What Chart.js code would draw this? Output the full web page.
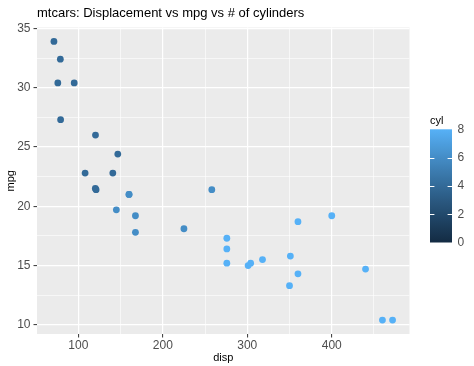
<!DOCTYPE html>
<html><head><meta charset="utf-8">
<script src="https://cdn.jsdelivr.net/npm/chart.js@4"></script>
<style>html,body{margin:0;padding:0;background:#fff}</style>
</head><body>
<canvas id="c" width="474" height="366"></canvas>
<script>
// mtcars data
const carNames = ["Mazda RX4","Mazda RX4 Wag","Datsun 710","Hornet 4 Drive","Hornet Sportabout","Valiant","Duster 360","Merc 240D","Merc 230","Merc 280","Merc 280C","Merc 450SE","Merc 450SL","Merc 450SLC","Cadillac Fleetwood","Lincoln Continental","Chrysler Imperial","Fiat 128","Honda Civic","Toyota Corolla","Toyota Corona","Dodge Challenger","AMC Javelin","Camaro Z28","Pontiac Firebird","Fiat X1-9","Porsche 914-2","Lotus Europa","Ford Pantera L","Ferrari Dino","Maserati Bora","Volvo 142E"];
const disp = [160,160,108,258,360,225,360,146.7,140.8,167.6,167.6,275.8,275.8,275.8,472,460,440,78.7,75.7,71.1,120.1,318,304,350,400,79,120.3,95.1,351,145,301,121];
const mpg = [21,21,22.8,21.4,18.7,18.1,14.3,24.4,22.8,19.2,17.8,16.4,17.3,15.2,10.4,10.4,14.7,32.4,30.4,33.9,21.5,15.5,15.2,13.3,19.2,27.3,26,30.4,15.8,19.7,15,21.4];
const cyl = [6,6,4,6,8,6,8,4,4,6,6,8,8,8,8,8,8,4,4,4,4,8,8,8,8,4,4,4,8,6,8,4];
const xTicks = [100,200,300,400];
const yTicks = [10,15,20,25,30,35];
const legendTicks = [0,2,4,6,8];
const colourLimits = [0,8];
const titleText = "mtcars: Displacement vs mpg vs # of cylinders";
const xTitle = "disp", yTitle = "mpg", legendTitle = "cyl";
const lowColour = "#132B43", highColour = "#56B1F7";

// ---- Lab colour interpolation (like scales::seq_gradient_pal) ----
function hexToRgb(h){h=h.replace('#','');return [0,2,4].map(i=>parseInt(h.substr(i,2),16));}
function toLab(rgb){
  const lin=rgb.map(c=>{c/=255;return c<=0.04045?c/12.92:Math.pow((c+0.055)/1.055,2.4);});
  const X=(0.4124*lin[0]+0.3576*lin[1]+0.1805*lin[2])/0.95047;
  const Y=(0.2126*lin[0]+0.7152*lin[1]+0.0722*lin[2]);
  const Z=(0.0193*lin[0]+0.1192*lin[1]+0.9505*lin[2])/1.08883;
  const f=t=>t>0.008856?Math.cbrt(t):7.787*t+16/116;
  const fx=f(X),fy=f(Y),fz=f(Z);
  return [116*fy-16,500*(fx-fy),200*(fy-fz)];
}
function fromLab(lab){
  const fy=(lab[0]+16)/116,fx=lab[1]/500+fy,fz=fy-lab[2]/200;
  const fi=t=>{const t3=t*t*t;return t3>0.008856?t3:(t-16/116)/7.787;};
  const X=0.95047*fi(fx),Y=fi(fy),Z=1.08883*fi(fz);
  let r=3.2406*X-1.5372*Y-0.4986*Z,g=-0.9689*X+1.8758*Y+0.0415*Z,b=0.0557*X-0.2040*Y+1.0570*Z;
  return [r,g,b].map(c=>{c=c<=0.0031308?12.92*c:1.055*Math.pow(c,1/2.4)-0.055;return Math.round(Math.max(0,Math.min(1,c))*255);});
}
const labLo=toLab(hexToRgb(lowColour)), labHi=toLab(hexToRgb(highColour));
function colourFor(v){
  const t=(v-colourLimits[0])/(colourLimits[1]-colourLimits[0]);
  const c=fromLab(labLo.map((x,i)=>x+(labHi[i]-x)*t));
  return `rgb(${c[0]},${c[1]},${c[2]})`;
}

// ---- axis ranges with ggplot-like 5% expansion ----
function expand(arr){const mn=Math.min(...arr),mx=Math.max(...arr),d=(mx-mn)*0.05;return [mn-d,mx+d];}
const xr=expand(disp), yr=expand(mpg);
function gridValues(major, lo, hi){
  const step=major[1]-major[0];const out=[];
  for(let v=major[0]-step/2; v<=major[major.length-1]+step/2+1e-9; v+=step/2){ if(v>=lo&&v<=hi) out.push(+v.toFixed(6)); }
  return out;
}
const isMajor=(arr,v)=>arr.some(m=>Math.abs(m-v)<1e-6);

const FONT="'Liberation Sans', Arial, sans-serif";

const bgPlugin={id:'bg',beforeDraw(chart){
  const {ctx,chartArea:a}=chart;ctx.save();ctx.fillStyle='#EBEBEB';
  ctx.fillRect(a.left,a.top,a.right-a.left,a.bottom-a.top);ctx.restore();
}};
const decoPlugin={id:'deco',afterDraw(chart){
  const ctx=chart.ctx, a=chart.chartArea;
  ctx.save();
  // title
  ctx.fillStyle='#000';ctx.font='13px '+FONT;ctx.textBaseline='middle';ctx.textAlign='left';
  ctx.fillText(titleText,a.left,13);
  // colourbar legend
  const x0=a.right+20.5, x1=x0+22, top=129.3, bot=242.5;
  ctx.font='11px '+FONT;ctx.fillStyle='#000';
  ctx.fillText(legendTitle,x0,121);
  const g=ctx.createLinearGradient(0,bot,0,top);
  for(let i=0;i<=30;i++){const t=i/30;g.addColorStop(t,colourFor(colourLimits[0]+t*(colourLimits[1]-colourLimits[0])));}
  ctx.fillStyle=g;ctx.fillRect(x0,top,x1-x0,bot-top);
  const yOf=v=>bot-(v-colourLimits[0])/(colourLimits[1]-colourLimits[0])*(bot-top);
  ctx.strokeStyle='#fff';ctx.lineWidth=1;
  legendTicks.forEach(v=>{
    if(v===colourLimits[0]||v===colourLimits[1])return;
    const y=Math.round(yOf(v))+0.5;
    ctx.beginPath();ctx.moveTo(x0,y);ctx.lineTo(x0+4.4,y);ctx.moveTo(x1-4.4,y);ctx.lineTo(x1,y);ctx.stroke();
  });
  ctx.fillStyle='#4D4D4D';ctx.font='12px '+FONT;ctx.textBaseline='middle';
  legendTicks.forEach(v=>ctx.fillText(String(v),x1+5.5,yOf(v)));
  ctx.restore();
}};

const pts=disp.map((d,i)=>({x:d,y:mpg[i]}));
new Chart(document.getElementById('c'),{
  type:'scatter',
  data:{datasets:[{label:legendTitle,data:pts,
    backgroundColor:cyl.map(colourFor),borderWidth:0,pointRadius:3.4,pointHoverRadius:3.4}]},
  options:{
    responsive:false,animation:false,devicePixelRatio:1,
    layout:{padding:{top:27.5,right:64.5,left:0,bottom:0}},
    plugins:{legend:{display:false},tooltip:{enabled:false},title:{display:false}},
    scales:{
      x:{type:'linear',min:xr[0],max:xr[1],
        afterBuildTicks:ax=>{ax.ticks=gridValues(xTicks,xr[0],xr[1]).map(v=>({value:v}));},
        afterFit:s=>{s.height=32;},
        border:{display:false},
        grid:{color:'#FFFFFF',lineWidth:c=>isMajor(xTicks,c.tick.value)?1.2:0.6,
          tickColor:c=>isMajor(xTicks,c.tick.value)?'#333333':'rgba(0,0,0,0)',tickLength:3.5,tickWidth:1},
        ticks:{autoSkip:false,maxRotation:0,padding:1,color:'#4D4D4D',font:{family:FONT,size:12},
          callback:v=>isMajor(xTicks,v)?String(v):''},
        title:{display:true,text:xTitle,color:'#000',font:{family:FONT,size:11},padding:{top:0,bottom:1.4}}
      },
      y:{type:'linear',min:yr[0],max:yr[1],
        afterBuildTicks:ax=>{ax.ticks=gridValues(yTicks,yr[0],yr[1]).map(v=>({value:v}));},
        afterFit:s=>{s.width=37;},
        border:{display:false},
        grid:{color:'#FFFFFF',lineWidth:c=>isMajor(yTicks,c.tick.value)?1.2:0.6,
          tickColor:c=>isMajor(yTicks,c.tick.value)?'#333333':'rgba(0,0,0,0)',tickLength:3.5,tickWidth:1},
        ticks:{autoSkip:false,padding:3,color:'#4D4D4D',font:{family:FONT,size:12},
          callback:v=>isMajor(yTicks,v)?String(v):''},
        title:{display:true,text:yTitle,color:'#000',font:{family:FONT,size:11},padding:{top:4,bottom:0}}
      }
    }
  },
  plugins:[bgPlugin,decoPlugin]
});
</script>
</body></html>
